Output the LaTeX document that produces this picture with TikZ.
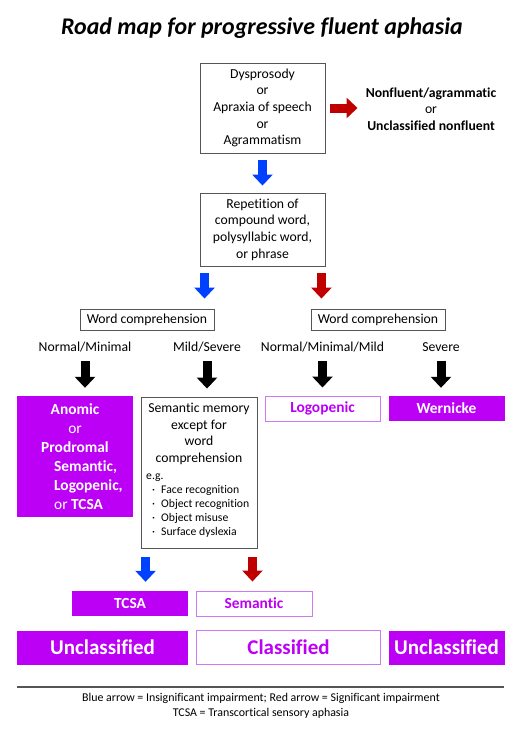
\documentclass[tikz,border=0pt]{standalone}
\usepackage{fontspec}
\setmainfont{Carlito}[Ligatures=NoCommon]
\usetikzlibrary{arrows.meta,positioning}
\definecolor{vivpurple}{RGB}{187,0,245}
\definecolor{lightpurple}{RGB}{205,120,245}
\definecolor{arrblue}{RGB}{0,64,255}
\definecolor{arrred}{RGB}{192,0,0}
\definecolor{boxgrey}{RGB}{85,85,85}

\tikzset{
  txt/.style={font=\fontsize{13.7}{16.6}\selectfont,align=center,inner sep=0pt},
  plainbox/.style={draw=boxgrey,line width=0.9pt,inner sep=0pt},
  fullpurple/.style={fill=vivpurple,text=white,inner sep=0pt,align=center,
    font=\bfseries\fontsize{15.4}{19}\selectfont},
  linepurple/.style={draw=lightpurple,line width=1pt,text=vivpurple,inner sep=0pt,
    font=\bfseries\fontsize{15.4}{19}\selectfont},
  bigfont/.style={font=\bfseries\fontsize{21}{25}\selectfont},
  blockarr/.style={line width=9pt,-{Triangle[width=20pt,length=11pt]}},
}

\begin{document}
\begin{tikzpicture}[x=1pt,y=-1pt]
  \useasboundingbox (0,0) rectangle (520,737);

  % title
  \node[font=\bfseries\itshape\fontsize{23.9}{28}\selectfont] (title) at (262,28)
    {Road map for progressive fluent aphasia};

  % first question
  \node[plainbox,txt,minimum width=125pt,minimum height=90pt] (dys) at (262.5,108)
    {Dysprosody\\or\\Apraxia of speech\\or\\Agrammatism};
  \node[txt,font=\bfseries\fontsize{13.7}{16.6}\selectfont] (nonfl) at (431,109)
    {Nonfluent/agrammatic\\{\mdseries or}\\Unclassified nonfluent};
  \node[plainbox,txt,minimum width=125pt,minimum height=73pt] (rep) at (262.5,229.5)
    {Repetition of\\compound word,\\polysyllabic word,\\or phrase};

  \draw[blockarr,arrred,shorten <=5pt,shorten >=8pt] (dys.east) -- (dys.east -| nonfl.west);
  \draw[blockarr,arrblue,shorten <=7pt,shorten >=7pt] (dys) -- (rep);

  % word comprehension
  \node[plainbox,txt,minimum width=134pt,minimum height=21pt] (wcleft) at (147,319.5)
    {Word comprehension};
  \node[plainbox,txt,minimum width=134pt,minimum height=21pt] (wcright) at (378,319.5)
    {Word comprehension};

  \draw[blockarr,arrblue,shorten <=7pt,shorten >=10pt]
    ([xshift=5pt]rep.south west) -- ([xshift=5pt]rep.south west |- wcleft.north);
  \draw[blockarr,arrred,shorten <=7pt,shorten >=10pt]
    ([xshift=-4pt]rep.south east) -- ([xshift=-4pt]rep.south east |- wcright.north);

  \node[txt] (normmin) at (85,347) {Normal/Minimal};
  \node[txt] (mildsev) at (207,347) {Mild/Severe};
  \node[txt] (normmild) at (322.5,347) {Normal/Minimal/Mild};
  \node[txt] (severe) at (441,347) {Severe};

  % result row
  \node[fill=vivpurple,minimum width=116pt,minimum height=121pt] (anomic) at (75,456.5) {};
  \node[fullpurple] (anotop) at (75,428) {Anomic\\{\mdseries or}\\Prodromal};
  \node[fullpurple,align=left,anchor=west] (anobot) at (54,485)
    {Semantic,\\Logopenic,\\{\mdseries or} TCSA};

  \node[plainbox,minimum width=116pt,minimum height=151pt] (semmem) at (199,472.5) {};
  \node[txt] (semtop) at (199,434) {Semantic memory\\except for\\word\\comprehension};
  \node[txt,align=left,anchor=west,font=\fontsize{11.7}{14}\selectfont] (semlist) at (146,506)
    {e.g.\\
     \hspace*{6pt}\makebox[9pt][l]{·}Face recognition\\
     \hspace*{6pt}\makebox[9pt][l]{·}Object recognition\\
     \hspace*{6pt}\makebox[9pt][l]{·}Object misuse\\
     \hspace*{6pt}\makebox[9pt][l]{·}Surface dyslexia};

  \node[linepurple,minimum width=115pt,minimum height=25pt] (logo) at (322.5,408.5) {Logopenic};
  \node[fullpurple,minimum width=116pt,minimum height=25pt] (wern) at (446.5,408.5) {Wernicke};

  \draw[blockarr,shorten <=9pt,shorten >=8pt] (normmin.south) -- (normmin.south |- anomic.north);
  \draw[blockarr,shorten <=9pt,shorten >=8pt] (mildsev.south) -- (mildsev.south |- semmem.north);
  \draw[blockarr,shorten <=9pt,shorten >=8pt] (normmild.south) -- (normmild.south |- logo.north);
  \draw[blockarr,shorten <=9pt,shorten >=8pt] (severe.south) -- (severe.south |- wern.north);

  % semantic memory outcome
  \node[fullpurple,minimum width=116pt,minimum height=25pt] (tcsa) at (130,603.5) {TCSA};
  \node[linepurple,minimum width=116pt,minimum height=25pt] (sem) at (254,603.5) {Semantic};

  \draw[blockarr,arrblue,shorten <=9pt,shorten >=9pt]
    ([xshift=5pt]semmem.south west) -- ([xshift=5pt]semmem.south west |- tcsa.north);
  \draw[blockarr,arrred,shorten <=9pt,shorten >=9pt]
    ([xshift=-5pt]semmem.south east) -- ([xshift=-5pt]semmem.south east |- sem.north);

  % classification
  \node[fullpurple,bigfont,minimum width=171pt,minimum height=34pt] (unclleft) at (102.5,647.5) {Unclassified};
  \node[linepurple,bigfont,minimum width=184pt,minimum height=34pt] (classif) at (288.5,647.5) {Classified};
  \node[fullpurple,bigfont,minimum width=116pt,minimum height=34pt] (unclright) at (446.5,647.5) {Unclassified};

  % footnote
  \draw[boxgrey,line width=1.2pt] (17,687) -- (504,687);
  \node[txt,font=\fontsize{11.9}{15}\selectfont] (foot) at (261,705.5)
    {Blue arrow = Insignificant impairment; Red arrow = Significant impairment\\
     TCSA = Transcortical sensory aphasia};
\end{tikzpicture}
\end{document}
